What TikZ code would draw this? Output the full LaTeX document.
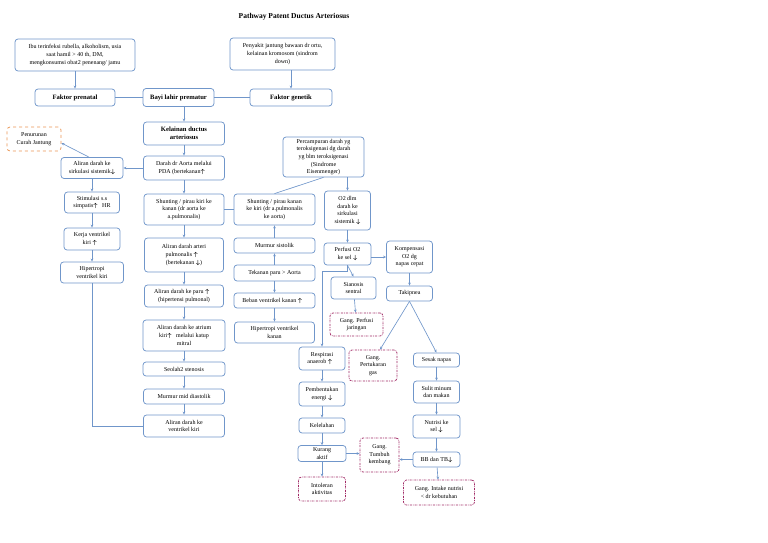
\documentclass[tikz,border=0pt]{standalone}
\usepackage{fontspec}
\setmainfont{Liberation Serif}
\usepackage{amsmath}
\usetikzlibrary{arrows.meta}
\definecolor{garis}{RGB}{112,150,202}
\definecolor{ungu}{RGB}{160,40,100}
\definecolor{jingga}{RGB}{235,150,85}
\newcommand{\naik}{$\boldsymbol{\uparrow}$}
\newcommand{\turun}{$\boldsymbol{\downarrow}$}
\begin{document}
\begin{tikzpicture}
            [x=1pt,y=-1pt,
            box/.style={draw=garis,line width=0.75pt,rounded corners=3pt,fill=white,align=center,inner sep=1pt,font=\fontsize{6}{7.6}\selectfont},
            wh/.style 2 args={minimum width=#1pt,minimum height=#2pt},
            tebal/.style={box,font=\fontsize{6.6}{7.8}\selectfont\bfseries},
            masalah/.style={box,draw=ungu,dash pattern=on 2pt off 1pt on 0.6pt off 1pt},
            arr/.style={draw=garis,line width=0.65pt,-{Stealth[length=3pt,width=2.6pt]}},
            line/.style={draw=garis,line width=0.65pt}]
            \useasboundingbox (0,0) rectangle (768,542);
            \node[font=\fontsize{7.5}{9}\selectfont\bfseries] (judul) at (294,17) {Pathway Patent Ductus Arteriosus};
            \node[box,wh={120}{32}] (ibu) at (75,55) {Ibu terinfeksi rubella, alkoholism, usia\\ saat hamil > 40 th, DM,\\ mengkonsumsi obat2 penenang/ jamu};
            \node[box,wh={105}{32}] (penyakit) at (282.5,54) {Penyakit jantung bawaan dr ortu,\\ kelainan kromosom (sindrom\\ down)};
            \node[tebal,wh={80}{17}] (prenatal) at (75,97.5) {Faktor prenatal};
            \node[tebal,wh={71}{18}] (bayi) at (178.5,97.5) {Bayi lahir prematur};
            \node[tebal,wh={82}{17}] (genetik) at (291,97.5) {Faktor genetik};
            \node[tebal,wh={81}{23}] (kelainan) at (184,133.5) {Kelainan ductus\\ arteriosus};
            \node[box,draw=jingga,dashed,wh={54}{24}] (penurunan) at (34,139) {Penurunan\\ Curah Jantung};
            \node[box,wh={62}{21}] (aliransis) at (92,168) {Aliran darah ke\\ sirkulasi sistemik\turun};
            \node[box,wh={81}{24}] (darahaorta) at (184,168) {Darah dr Aorta melalui\\ PDA (bertekanan\naik};
            \node[box,wh={55}{21}] (stimulasi) at (92,202.5) {Stimulasi s.s\\ simpatis\naik HR};
            \node[box,wh={56}{22}] (kerja) at (92,239) {Kerja ventrikel\\ kiri \naik};
            \node[box,wh={63}{21}] (hipki) at (92,272.5) {Hipertropi\\ ventrikel kiri};
            \node[box,wh={80}{31}] (shuntki) at (184,209.5) {Shunting / pirau kiri ke\\ kanan (dr aorta ke\\ a.pulmonalis)};
            \node[box,wh={81}{31}] (shuntka) at (274.5,209.5) {Shunting / pirau kanan\\ ke kiri (dr a.pulmonalis\\ ke aorta)};
            \node[box,wh={79}{34}] (arteri) at (184,255) {Aliran darah arteri\\ pulmonalis \naik\\ (bertekanan \turun)};
            \node[box,wh={79}{22}] (paru) at (184,296) {Aliran darah ke paru \naik\\ (hipertensi pulmonal)};
            \node[box,wh={82}{31}] (atrium) at (184,335.5) {Aliran darah ke atrium\\ kiri\naik melalui katup\\ mitral};
            \node[box,wh={82}{14}] (seolah) at (184,369) {Seolah2 stenosis};
            \node[box,wh={81}{15}] (mmd) at (184,396.5) {Murmur mid diastolik};
            \node[box,wh={81}{22}] (alirvent) at (184,426) {Aliran darah ke\\ ventrikel kiri};
            \node[box,wh={81}{15}] (murmursis) at (274.5,245.5) {Murmur sistolik};
            \node[box,wh={81}{16}] (tekanan) at (274.5,273) {Tekanan paru > Aorta};
            \node[box,wh={81}{15}] (beban) at (274.5,300.5) {Beban ventrikel kanan \naik};
            \node[box,wh={80}{21}] (hipka) at (274.5,332.5) {Hipertropi ventrikel\\ kanan};
            \node[box,wh={81}{40}] (percampuran) at (323.5,157) {Percampuran darah yg\\ teroksigenasi dg darah\\ yg blm teroksigenasi\\ (Sindrome\\ Eisenmenger)};
            \node[box,wh={46}{39}] (o2) at (347.5,210.5) {O2 dlm\\ darah ke\\ sirkulasi\\ sistemik \turun};
            \node[box,wh={47}{22}] (perfusi) at (347.5,254) {Perfusi O2\\ ke sel \turun};
            \node[box,wh={46}{32}] (kompensasi) at (409.5,257) {Kompensasi\\ O2 dg\\ napas cepat};
            \node[box,wh={45}{22}] (sianosis) at (353.5,288) {Sianosis\\ sentral};
            \node[masalah,wh={53}{23}] (gperfusi) at (356.5,324.5) {Gang. Perfusi\\ jaringan};
            \node[box,wh={46}{15}] (takipnea) at (409.5,293.5) {Takipnea};
            \node[masalah,wh={48}{31}] (gpertukaran) at (373,365.5) {Gang.\\ Pertukaran\\ gas};
            \node[box,wh={46}{14}] (sesak) at (436.5,360) {Sesak napas};
            \node[box,wh={46}{22}] (sulit) at (436.5,392) {Sulit minum\\ dan makan};
            \node[box,wh={47}{23}] (nutrisi) at (436.5,426.5) {Nutrisi ke\\ sel \turun};
            \node[box,wh={47}{15}] (bbtb) at (436.5,459.5) {BB dan TB\turun};
            \node[masalah,wh={71}{25}] (gintake) at (439,492.5) {Gang. Intake nutrisi\\ < dr kebutuhan};
            \node[masalah,wh={39}{34}] (gtumbuh) at (379.5,455) {Gang.\\ Tumbuh\\ kembang};
            \node[box,wh={46}{23}] (respirasi) at (322,358.5) {Respirasi\\ anaerob \naik};
            \node[box,wh={46}{24}] (pembentukan) at (322,394) {Pembentukan\\ energi \turun};
            \node[box,wh={46}{15}] (kelelahan) at (322,425.5) {Kelelahan};
            \node[box,wh={48}{16}] (kurang) at (322,453.5) {Kurang\\ aktif};
            \node[masalah,wh={47}{24}] (intoleran) at (322,489) {Intoleran\\ aktivitas};

            \draw[arr] (ibu) -- (prenatal);
            \draw[arr] (genetik.north |- penyakit.south) -- (genetik.north);
            \draw[line] (prenatal) -- (bayi);
            \draw[line] (bayi) -- (genetik);
            \draw[arr] (kelainan.north |- bayi.south) -- (kelainan.north);
            \draw[arr] (kelainan) -- (darahaorta);
            \draw[arr] (darahaorta) -- (aliransis);
            \draw[arr] ([xshift=-3pt]aliransis.north) -- ([yshift=-4pt]penurunan.east);
            \draw[arr] (aliransis) -- (stimulasi);
            \draw[arr] (stimulasi) -- (kerja);
            \draw[arr] (kerja) -- (hipki);
            \draw[line] (hipki.south) |- (alirvent.west);
            \draw[arr] (darahaorta) -- (shuntki);
            \draw[arr] (shuntki) -- (arteri);
            \draw[arr] (arteri) -- (paru);
            \draw[arr] (paru) -- (atrium);
            \draw[arr] (atrium) -- (seolah);
            \draw[arr] (seolah) -- (mmd);
            \draw[arr] (mmd) -- (alirvent);
            \draw[line] (shuntki) -- (shuntka);
            \draw[line] (shuntka.north) -- (percampuran.south);
            \draw[arr] (murmursis) -- (shuntka);
            \draw[arr] (tekanan) -- (murmursis);
            \draw[arr] (tekanan) -- (beban);
            \draw[arr] (beban) -- (hipka);
            \draw[arr] (o2.north |- percampuran.south) -- (o2.north);
            \draw[arr] (o2) -- (perfusi);
            \draw[arr] (perfusi.east |- kompensasi.west) -- (kompensasi.west);
            \draw[arr] (perfusi.south) -- (sianosis.north);
            \draw[arr] (perfusi.south) -- ++(0,6) -| (respirasi.north);
            \draw[arr] (sianosis) -- (gperfusi);
            \draw[arr] (kompensasi) -- (takipnea);
            \draw[arr] (takipnea.south) -- ([xshift=7pt]gpertukaran.north);
            \draw[arr] (takipnea.south) -- (sesak.north);
            \draw[arr] (sesak) -- (sulit);
            \draw[arr] (sulit) -- (nutrisi);
            \draw[arr] (nutrisi) -- (bbtb);
            \draw[arr] (bbtb) -- (gintake);
            \draw[arr] (bbtb) -- (gtumbuh.east |- bbtb);
            \draw[arr] (respirasi) -- (pembentukan);
            \draw[arr] (pembentukan) -- (kelelahan);
            \draw[arr] (kelelahan) -- (kurang);
            \draw[arr] (kurang) -- (intoleran);
            \draw[arr] (kurang) -- (gtumbuh.west |- kurang);
        \end{tikzpicture}
\end{document}
